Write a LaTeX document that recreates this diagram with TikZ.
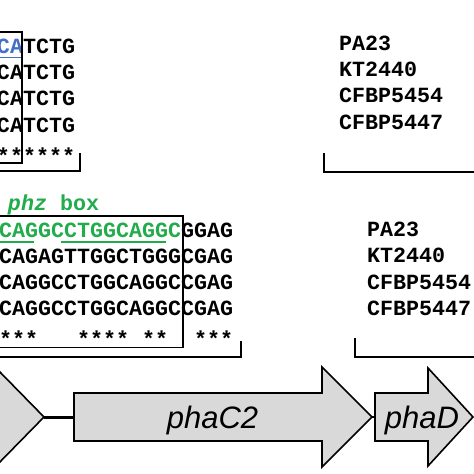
\documentclass[tikz,border=0pt]{standalone}
\usepackage{fontspec}
\setmainfont{Liberation Sans}
\newfontfamily\seqfont{Liberation Mono}
\definecolor{boxgreen}{RGB}{34,172,76}
\definecolor{seqblue}{RGB}{66,112,196}
\definecolor{genegray}{RGB}{217,217,217}
\tikzset{
  seq/.style={anchor=base west, inner sep=0pt, outer sep=0pt,
    font=\seqfont\bfseries\fontsize{21.67}{26}\selectfont},
  genebox/.style={draw=black, line width=1.6pt, fill=genegray, line join=miter},
  genelabel/.style={inner sep=0pt, anchor=base,
    font=\itshape\fontsize{31}{36}\selectfont},
  link/.style={line width=3pt},
  framebox/.style={draw=black, line width=1.6pt},
  bracketline/.style={line width=1.6pt},
  uline/.style={line width=1.8pt}
}
\begin{document}
\begin{tikzpicture}[x=1pt,y=-1pt]
\useasboundingbox (0,0) rectangle (474,474);
\clip (0,0) rectangle (474,474);
\fill[white] (0,0) rectangle (474,474);

% ---------- top block ----------
\node[seq] (t1) at (-3,53) {{\color{seqblue}CA}TCTG};
\node[seq] (t2) at (-3,79.3) {CATCTG};
\node[seq] (t3) at (-3,105.6) {CATCTG};
\node[seq] (t4) at (-3,132) {CATCTG};
\node[seq] (t5) at (-3,163) {******};
\draw[uline, seqblue] (-3,57.5) -- (21,57.5);
\draw[framebox] (-10,32) rectangle (22,163);
\draw[bracketline] (-5,171) -- (80,171) -- (80,153);

\node[seq] (s1) at (339,50) {PA23};
\node[seq] (s2) at (339,76.3) {KT2440};
\node[seq] (s3) at (339,102.6) {CFBP5454};
\node[seq] (s4) at (339,129) {CFBP5447};
\draw[bracketline] (324,153) -- (324,172) -- (480,172);

% ---------- middle block ----------
\node[seq, text=boxgreen] (phz) at (8,210) {\itshape phz\upshape{} box};
\node[seq] (m1) at (-1,237.5) {{\color{boxgreen}CAGGCCTGGCAGGC}GGAG};
\node[seq] (m2) at (-1,263.3) {CAGAGTTGGCTGGGCGAG};
\node[seq] (m3) at (-1,289.2) {CAGGCCTGGCAGGCCGAG};
\node[seq] (m4) at (-1,315.2) {CAGGCCTGGCAGGCCGAG};
\node[seq] (m5) at (-1,346) {***~~~****~**~~***};
\draw[uline, boxgreen] (-3,242) -- (34,242);
\draw[uline, boxgreen] (61,242) -- (166,242);
\draw[framebox] (-10,216) rectangle (182.7,347.5);
\draw[bracketline] (-5,357) -- (240.7,357) -- (240.7,341);

\node[seq] (r1) at (367,236.5) {PA23};
\node[seq] (r2) at (367,262.8) {KT2440};
\node[seq] (r3) at (367,289) {CFBP5454};
\node[seq] (r4) at (367,315.4) {CFBP5447};
\draw[bracketline] (355,338) -- (355,357) -- (480,357);

% ---------- gene map ----------
\draw[genebox] (-30,367) -- (-5,367) -- (44,417) coordinate (tipA) -- (-5,467) -- (-30,467) -- cycle;
\draw[genebox] (74,393) -- (322,393) -- (322,367) -- (372,417) coordinate (tipC)
  -- (322,467) -- (322,441) -- (74,441) -- cycle;
\coordinate (c2start) at (74,417);
\draw[genebox] (375,393) -- (428,393) -- (428,368) -- (473,417) coordinate (tipD)
  -- (428,466) -- (428,441) -- (375,441) -- cycle;
\coordinate (dstart) at (375,417);
\draw[link] (tipA) -- (c2start);
\draw[line width=1.6pt] (tipC) -- (dstart);
\node[genelabel] (lc2) at (212.5,428) {phaC2};
\node[genelabel] (ld) at (422,428) {phaD};
\end{tikzpicture}
\end{document}
